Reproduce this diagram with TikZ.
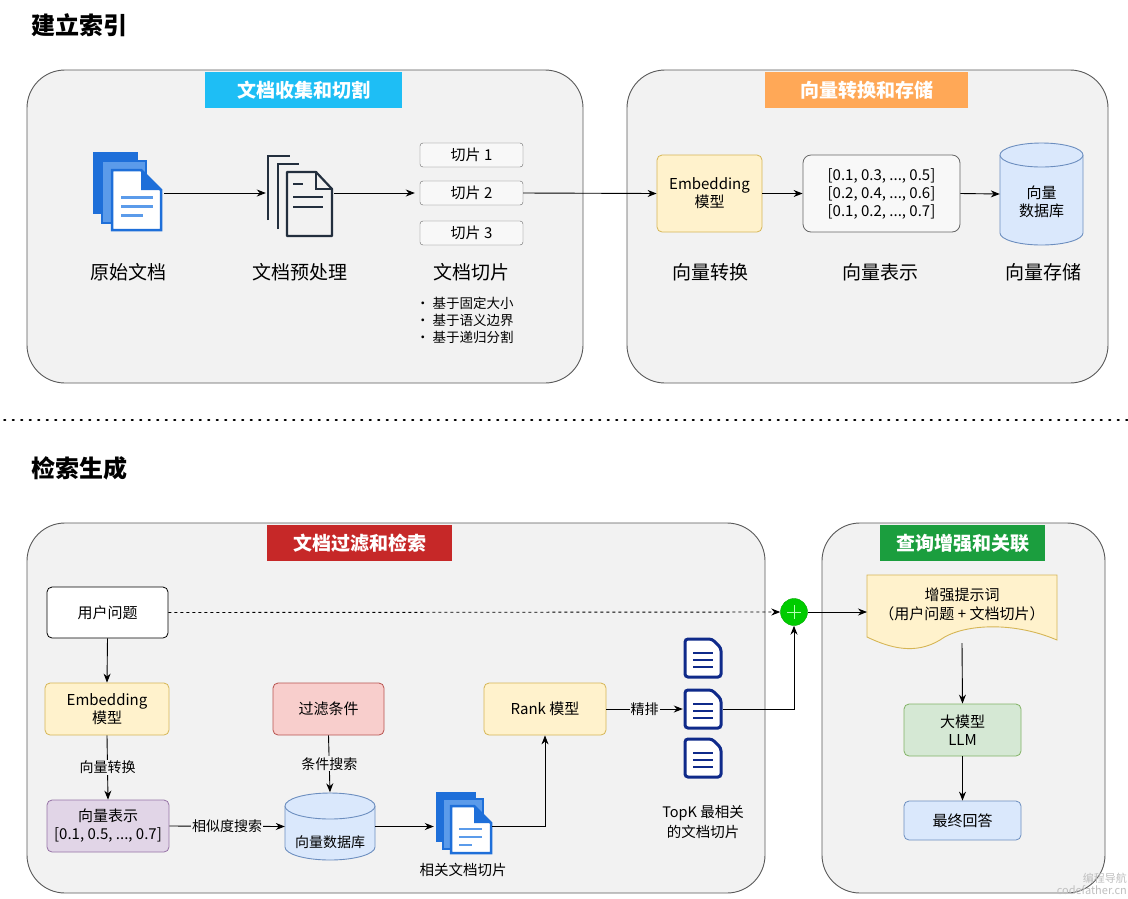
\documentclass[tikz,border=0pt]{standalone}
\usepackage{fontspec}
\setmainfont{Noto Sans CJK SC}
\usetikzlibrary{shapes.geometric,arrows.meta,positioning}
\definecolor{panel}{HTML}{F2F2F2}
\definecolor{yfill}{HTML}{FFF2CC}\definecolor{ystroke}{HTML}{D6B656}
\definecolor{bfill}{HTML}{DAE8FC}\definecolor{bstroke}{HTML}{6C8EBF}
\definecolor{pfill}{HTML}{E1D5E7}\definecolor{pstroke}{HTML}{9673A6}
\definecolor{rfill}{HTML}{F8CECC}\definecolor{rstroke}{HTML}{B85450}
\definecolor{gfill}{HTML}{D5E8D4}\definecolor{gstroke}{HTML}{82B366}
\definecolor{navy}{HTML}{0F2A8A}
\definecolor{docblue}{HTML}{1E6FD9}\definecolor{doclight}{HTML}{5B9BEA}
\definecolor{iconblack}{HTML}{232F3E}
\tikzset{
  x=1pt,y=-1pt,
  panelbox/.style={draw=black!65,fill=panel,rounded corners=38pt,line width=0.9pt},
  tag/.style={text=white,font=\fontsize{19}{22}\selectfont\bfseries,inner sep=0pt,minimum height=36pt},
  box/.style={draw,rounded corners=5pt,align=center,font=\fontsize{15}{18}\selectfont,line width=0.8pt,inner sep=2pt},
  chunk/.style={draw=black!60,fill=white!50!panel,rounded corners=3pt,minimum width=103pt,minimum height=24pt,font=\fontsize{15}{16}\selectfont,inner sep=0pt},
  lbl/.style={font=\fontsize{19}{22}\selectfont,align=center},
  small/.style={font=\fontsize{14.5}{17}\selectfont,align=center},
  arr/.style={-{Stealth[length=9pt,width=7pt]},line width=0.9pt},
  elab/.style={fill=panel,font=\fontsize{14}{16}\selectfont,inner sep=1pt},
  dbline/.style={draw=bstroke,fill=bfill,line width=0.9pt},
  smalldoc/.pic={
    \draw[navy,line width=3pt,rounded corners=3pt,fill=white] (-18,-19)--(9,-19)--(18,-10)--(18,19)--(-18,19)--cycle;
    \foreach \yy in {-5,2,9} \draw[navy,line width=2.6pt] (-10,\yy)--(10,\yy);
  }
}
\begin{document}
\begin{tikzpicture}
\useasboundingbox (0,0) rectangle (1128,898);
\fill[white] (0,0) rectangle (1128,898);
% titles
\node[anchor=west,font=\fontsize{24}{28}\selectfont\bfseries] (t1) at (28,25) {建立索引};
\node[anchor=west,font=\fontsize{24}{28}\selectfont\bfseries] (t2) at (28,468) {检索生成};
\draw[line width=1.6pt,dash pattern=on 1.5pt off 7pt,line cap=round] (4,420)--(1128,420);
% panels
\draw[panelbox] (27,70) rectangle (583,383);
\draw[panelbox] (627,70) rectangle (1108,383);
\draw[panelbox] (27,523) rectangle (765,893);
\draw[panelbox] (822,523) rectangle (1105,893);
\node[tag,minimum width=197pt,fill={rgb,255:red,30;green,190;blue,245}] (g1) at (303.5,90) {文档收集和切割};
\node[tag,minimum width=203pt,fill={rgb,255:red,255;green,168;blue,87}] (g2) at (866.5,90) {向量转换和存储};
\node[tag,minimum width=185pt,fill={rgb,255:red,198;green,40;blue,40}] (g3) at (359.5,543) {文档过滤和检索};
\node[tag,minimum width=165pt,fill={rgb,255:red,27;green,158;blue,62}] (g4) at (962.5,543) {查询增强和关联};
% icon 1 : original docs
\node[minimum width=72pt,minimum height=82pt,inner sep=0] (raw) at (128,193) {};
\fill[docblue] (93,152) rectangle (138,214);
\fill[doclight,draw=docblue,line width=1.5pt] (102,161) rectangle (146,223);
\draw[docblue,line width=2.5pt,fill=white] (112,170)--(141,170)--(161,190)--(161,230)--(112,230)--cycle;
\fill[docblue] (141,170)--(161,190)--(141,190)--cycle;
\foreach \yy/\xe in {197/153,206/153,215/143} \draw[doclight,line width=3pt] (121,\yy)--(\xe,\yy);
\node[lbl] (rawl) at (128,272) {原始文档};
% icon 2 : preprocess
\node[minimum width=68pt,minimum height=82pt,inner sep=0] (pre) at (300,193) {};
\draw[iconblack,line width=2.2pt] (268,220)--(268,156)--(290,156);
\draw[iconblack,line width=2.2pt] (278,229)--(278,164)--(299,164);
\draw[iconblack,line width=2.2pt,line join=round] (287,236)--(287,172)--(316,172)--(332,189)--(332,236)--cycle;
\draw[iconblack,line width=2.2pt] (316,172)--(316,189)--(332,189);
\foreach \yy/\xe in {184/303,197/323,207/323} \draw[iconblack,line width=2.2pt] (293,\yy)--(\xe,\yy);
\node[lbl] (prel) at (300,272) {文档预处理};
% chunks
\node[chunk] (c1) at (471.5,155) {切片 1};
\node[chunk] (c2) at (471.5,193) {切片 2};
\node[chunk] (c3) at (471.5,233) {切片 3};
\node[lbl] (chl) at (471,272) {文档切片};
\node[small,anchor=north west,align=left,inner sep=0,font=\fontsize{13.5}{17}\selectfont] (bul) at (416,297) {• 基于固定大小\\• 基于语义边界\\• 基于递归分割};
\draw[arr] (raw.east) -- (pre.west);
\draw[arr] (pre.east) -- ([xshift=-5pt]c2.west);
% right top
\node[box,draw=ystroke,fill=yfill,minimum width=105pt,minimum height=77pt] (emb1) at (709.5,193.5) {Embedding\\模型};
\node[box,draw=black!60,fill=white!50!panel,minimum width=157pt,minimum height=77pt,rounded corners=8pt,font=\fontsize{15}{18}\selectfont] (vec1) at (881.5,193.5) {{[0.1, 0.3, ..., 0.5]}\\{[0.2, 0.4, ..., 0.6]}\\{[0.1, 0.2, ..., 0.7]}};
\node[minimum width=83pt,minimum height=102pt,inner sep=0] (db1) at (1041.5,194) {};
\draw[dbline] (1000,155) -- (1000,233) arc[x radius=41.5,y radius=12,start angle=180,end angle=0] -- (1083,155) arc[x radius=41.5,y radius=12,start angle=0,end angle=-180] -- cycle;
\draw[dbline] (1000,155) arc[x radius=41.5,y radius=12,start angle=180,end angle=0];
\node[font=\fontsize{15}{18}\selectfont,align=center] (db1l) at (1041.5,202) {向量\\数据库};
\draw[arr] (c2.east) -- (emb1.west);
\draw[arr] (emb1.east) -- (vec1.west);
\draw[arr] (vec1.east) -- (db1.west);
\node[lbl] (l1) at (710,272) {向量转换};
\node[lbl] (l2) at (880,272) {向量表示};
\node[lbl] (l3) at (1043,272) {向量存储};
% bottom left
\node[box,draw=black,fill=white,minimum width=121pt,minimum height=51pt] (q) at (107.5,612.5) {用户问题};
\node[box,draw=ystroke,fill=yfill,minimum width=124pt,minimum height=52pt] (emb2) at (107,709) {Embedding\\模型};
\node[box,draw=pstroke,fill=pfill,minimum width=122pt,minimum height=52pt] (vec2) at (108,826) {向量表示\\{[0.1, 0.5, ..., 0.7]}};
\node[box,draw=rstroke,fill=rfill,minimum width=111pt,minimum height=52pt] (flt) at (328.5,709) {过滤条件};
\node[minimum width=90pt,minimum height=68pt,inner sep=0] (db2) at (330,826.5) {};
\draw[dbline] (285,806) -- (285,847) arc[x radius=45,y radius=13,start angle=180,end angle=0] -- (375,806) arc[x radius=45,y radius=13,start angle=0,end angle=-180] -- cycle;
\draw[dbline] (285,806) arc[x radius=45,y radius=13,start angle=180,end angle=0];
\node[font=\fontsize{14}{16}\selectfont] (db2l) at (330,842) {向量数据库};
\node[box,draw=ystroke,fill=yfill,minimum width=122pt,minimum height=52pt] (rank) at (545,709) {Rank 模型};
% related doc icon
\node[minimum width=58pt,minimum height=60pt,inner sep=0] (rel) at (463,826.5) {};
\fill[docblue] (436,792) rectangle (476,842);
\fill[doclight,draw=docblue,line width=1.5pt] (443,799) rectangle (483,849);
\draw[docblue,line width=2.5pt,fill=white] (451,806)--(474,806)--(491,823)--(491,853)--(451,853)--cycle;
\fill[docblue] (474,806)--(491,823)--(474,823)--cycle;
\foreach \yy/\xe in {829/482,837/482,845/472} \draw[doclight,line width=2.5pt] (459,\yy)--(\xe,\yy);
\node[small] (rell) at (463,870) {相关文档切片};
% top-k icons
\pic at (703,658) {smalldoc};
\pic at (703,709) {smalldoc};
\pic at (703,758) {smalldoc};
\node[minimum width=40pt,minimum height=42pt,inner sep=0] (tk) at (703,709) {};
\node[small,font=\fontsize{14.5}{20}\selectfont] (tkl) at (703,822) {TopK 最相关\\的文档切片};
% merge
\node[circle,fill={rgb,255:red,0;green,204;blue,0},draw={rgb,255:red,0;green,170;blue,0},minimum size=27pt,inner sep=0] (plus) at (794,612) {};
\draw[white!70!green,line width=0.6pt] (787,612)--(801,612) (794,605)--(794,619);
% augmented prompt document
\draw[ystroke,fill=yfill,line width=0.9pt] (867,575)--(1057,575)--(1057,640) .. controls (1010,620) and (960,625) .. (940,640) .. controls (915,655) and (890,648) .. (867,637)--cycle;
\node[inner sep=0,minimum width=190pt,minimum height=65pt,align=center,font=\fontsize{15}{19}\selectfont] (aug) at (962,604) {增强提示词\\（用户问题 + 文档切片）};
\coordinate (augb) at (962,643);
\node[box,draw=gstroke,fill=gfill,minimum width=117pt,minimum height=52pt] (llm) at (962.5,730) {大模型\\LLM};
\node[box,draw=bstroke,fill=bfill,minimum width=117pt,minimum height=39pt] (ans) at (962.5,820.5) {最终回答};
% connectors
\draw[arr,dash pattern=on 3pt off 3pt] (q.east) -- (plus.west);
\draw[arr] (plus.east) -- (867,612);
\draw[arr] (q.south) -- (emb2.north);
\draw[arr] (emb2.south) -- node[elab] {向量转换} (vec2.north);
\draw[arr] (vec2.east) -- node[elab] {相似度搜索} (db2.west);
\draw[arr] (flt.south) -- node[elab] {条件搜索} (db2.north);
\draw[arr] (db2.east) -- (rel.west);
\draw[arr] (rel.east) -| (rank.south);
\draw[arr] (rank.east) -- node[elab] {精排} (tk.west);
\draw[arr] (tk.east) -| (plus.south);
\draw[arr] (augb) -- (llm.north);
\draw[arr] (llm.south) -- (ans.north);
% watermark
\node[text=black!25,font=\fontsize{11}{12}\selectfont,align=right,anchor=south east,inner sep=1pt] (wm) at (1128,896) {编程导航\\codefather.cn};
\end{tikzpicture}
\end{document}
